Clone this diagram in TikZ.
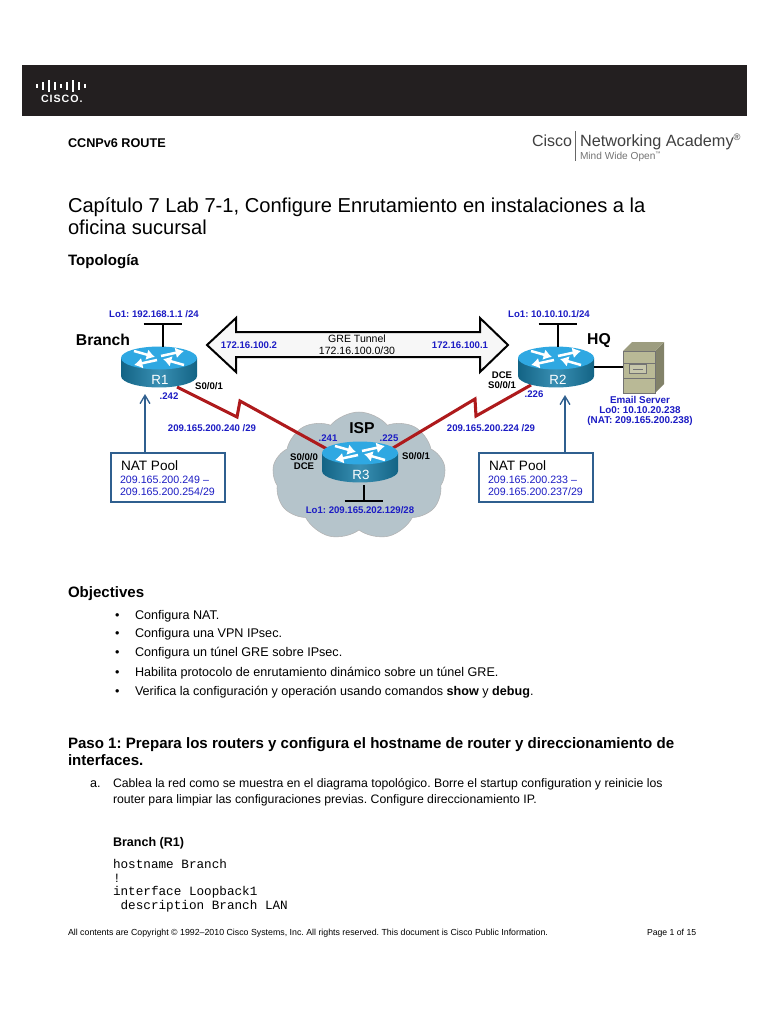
\documentclass[tikz,border=0pt]{standalone}
\usepackage{fontspec}
\setmainfont{Liberation Sans}
\setmonofont{Liberation Mono}
\usepackage{xcolor}
\usetikzlibrary{arrows.meta,positioning,shapes.symbols}
\definecolor{ciscoblack}{HTML}{231F20}
\definecolor{addrblue}{HTML}{1C1CC4}
\definecolor{linkred}{HTML}{AE1A1C}
\definecolor{poolline}{HTML}{2F5F8F}
\definecolor{cloudfill}{HTML}{B5C4CB}
\definecolor{routertop}{HTML}{2FA8E2}
\definecolor{routerside}{HTML}{177CA6}
\definecolor{servertan}{HTML}{B9B996}
\frenchspacing
\tikzset{
  txt/.style={anchor=base west, inner sep=0pt, outer sep=0pt, align=left},
  body/.style={txt, font=\fontsize{9.45}{12}\selectfont},
  head/.style={txt, font=\fontsize{11.3}{12.75}\selectfont\bfseries},
  code/.style={txt, font=\fontsize{9.5}{11}\selectfont\ttfamily},
  addr/.style={inner sep=0pt, text=addrblue, align=center, font=\fontsize{7.2}{7.4}\selectfont\bfseries},
  port/.style={inner sep=0pt, align=center, font=\fontsize{7.2}{7.2}\selectfont\bfseries},
  site/.style={inner sep=0pt, font=\fontsize{11.8}{12}\selectfont\bfseries},
  natbox/.style={draw=poolline, line width=1.1pt, fill=white, minimum width=85.5pt, minimum height=36.75pt, inner sep=0pt},
  natlbl/.style={txt, text=addrblue, font=\fontsize{8}{9}\selectfont},
  rname/.style={inner sep=0pt, text=white, font=\fontsize{10}{11}\selectfont},
  serial/.style={linkred, line width=2.3pt, line join=miter},
  lan/.style={black, line width=1.3pt},
  poolarrow/.style={-{Straight Barb[length=2.2mm,width=2.6mm]}, poolline, line width=1pt},
  rarrow/.style={white, line width=1.9pt, -{Latex[length=2.2mm,width=2.9mm]}},
  routericon/.pic={
    \shade[left color=routerside!80!black, right color=routerside!80!black, middle color=routerside!85!white]
      (-38,0) -- (-38,18) arc[start angle=180, end angle=360, x radius=28.5pt, y radius=8.6pt] -- (38,0) -- cycle;
    \fill[routertop] (0,0) ellipse[x radius=28.5pt, y radius=8.6pt];
    \foreach \a/\b/\c/\d in {-25/-7/-4/-1,25/7/4/1,-2/2/-25/7,2/-2/25/-7}
      \draw[rarrow] (\a,\b) -- (\c,\d);
  },
}
\begin{document}
\begin{tikzpicture}[x=0.75pt, y=-0.75pt]
  \useasboundingbox[fill=white] (0,0) rectangle (768,1024);
  % banner
  \fill[ciscoblack] (22,65) rectangle (747,116);
  \foreach \x/\h in {0/2,6/4,12/6,18/4,24/2,30/4,36/6,42/4,48/2}
    \fill[white] (36+\x,86-\h) rectangle (37.8+\x,86+\h);
  \node[txt, text=white, font=\fontsize{8}{10}\selectfont\bfseries\addfontfeature{LetterSpace=9}] (ciscoword) at (41,103) {CISCO.};
  \node[txt, font=\fontsize{9.5}{10}\selectfont\bfseries] (course) at (68,147) {CCNPv6 ROUTE};
  \node[txt, text=black!75, font=\fontsize{12}{13}\selectfont] (academyl) at (532,146) {Cisco};
  \node[txt, text=black!75, font=\fontsize{12.2}{13}\selectfont] (academy) at (580,146) {Networking Academy\textsuperscript{\fontsize{7}{7}\selectfont®}};
  \node[txt, text=black!55, font=\fontsize{7.6}{8}\selectfont] (motto) at (580,159) {Mind Wide Open\textsuperscript{\fontsize{4}{4}\selectfont™}};
  \draw[black!60, line width=.5pt] (575,131) -- (575,161);
  % heading
  \node[txt, font=\fontsize{15.1}{16.5}\selectfont] (title) at (68,234)
    {Capítulo 7 Lab 7-1, Configure Enrutamiento en instalaciones a la\\oficina sucursal};
  \node[head] (topo) at (68,265) {Topología};
  % cloud first, it lies under R3
  \node[cloud, cloud puffs=9, cloud puff arc=100, cloud ignores aspect, draw=black!30, fill=cloudfill,
        minimum width=130pt, minimum height=96pt, inner sep=0pt] (ispcloud) at (359,476) {};
  % tunnel
  \draw[line width=1.5pt, fill=black!3, line join=miter] (207,345) -- (236,318) -- (236,332) -- (480,332) -- (480,318)
    -- (508,345) -- (480,372) -- (480,357) -- (236,357) -- (236,372) -- cycle;
  \node[inner sep=0pt, align=center, font=\fontsize{7.9}{9}\selectfont] (gre) at (357,345) {GRE Tunnel\\172.16.100.0/30};
  \node[addr] (tunl) at (249,345) {172.16.100.2};
  \node[addr] (tunr) at (460,345) {172.16.100.1};
  % serial links
  \coordinate (s1) at (177,387);
  \coordinate (s3l) at (327,449);
  \coordinate (s2) at (531,385);
  \coordinate (s3r) at (393,448);
  \draw[serial] (s1) -- (237,417) -- (240,401) -- (s3l);
  \draw[serial] (s2) -- (476,416) -- (475,399) -- (s3r);
  % routers
  \foreach \x/\y in {159/358,556/358,360/453}
    \pic at (\x,\y) {routericon};
  \node[rname] (r1) at (160,380) {R1};
  \node[rname] (r2) at (558,380) {R2};
  \node[rname] (r3) at (361,475) {R3};
  % loopbacks
  \coordinate (lo1) at (163,324);
  \coordinate (lo2) at (558,324);
  \coordinate (lo3) at (364,501);
  \draw[lan] (lo1) -- (163,347);
  \draw[lan] (lo2) -- (558,347);
  \draw[lan] (lo3) -- (364,485);
  \foreach \c in {lo1,lo2,lo3}
    \draw[lan] ([xshift=-14.6pt]\c) -- ([xshift=14.6pt]\c);
  \node[addr] (lo1txt) at (154,314) {Lo1: 192.168.1.1 /24};
  \node[addr] (lo2txt) at (549,314) {Lo1: 10.10.10.1/24};
  \node[addr] (lo3txt) at (360,510) {Lo1: 209.165.202.129/28};
  % email server
  \fill[servertan!70!black] (655,351) -- (664,342) -- (664,384) -- (655,393) -- cycle;
  \fill[servertan!85!black] (623,351) -- (632,342) -- (664,342) -- (655,351) -- cycle;
  \node[draw=black!55, fill=servertan, minimum width=24pt, minimum height=31.5pt, inner sep=0pt] (server) at (639,372) {};
  \draw[black!55, line width=.4pt] (623,363) -- (655,363) (623,378) -- (655,378);
  \node[draw=black!55, fill=servertan!80!white, minimum width=13pt, minimum height=7pt, inner sep=0pt] (slot) at (638,369) {};
  \draw[black!55, line width=.4pt] (633,369) -- (643,369);
  \draw[lan] (594,367) -- (server.west |- 0,367);
  \node[addr, font=\fontsize{7.4}{7.2}\selectfont\bfseries] (srvtxt) at (640,411) {Email Server\\Lo0: 10.10.20.238\\(NAT: 209.165.200.238)};
  % labels
  \node[site] (branch) at (103,340) {Branch};
  \node[site] (hq) at (599,341) {HQ};
  \node[site] (isp) at (362,428) {ISP};
  \node[port] (p1) at (209,386) {S0/0/1};
  \node[port] (p2) at (304,461.5) {S0/0/0\\DCE};
  \node[port] (p3) at (416,456) {S0/0/1};
  \node[port] (p4) at (502,380.5) {DCE\\S0/0/1};
  \node[addr] (h1) at (169,396) {.242};
  \node[addr] (h2) at (328,438) {.241};
  \node[addr] (h3) at (389,438) {.225};
  \node[addr] (h4) at (534,394) {.226};
  \node[addr] (n1) at (212,428) {209.165.200.240 /29};
  \node[addr] (n2) at (491,428) {209.165.200.224 /29};
  % nat pools
  \node[natbox] (natl) at (168,477.5) {};
  \node[natbox] (natr) at (536,477.5) {};
  \draw[poolarrow] (natl.north -| 145,0) -- (145,394);
  \draw[poolarrow] (natr.north -| 565,0) -- (565,395);
  \node[txt, font=\fontsize{10.2}{10}\selectfont] (natlt) at (121,470) {NAT Pool};
  \node[txt, font=\fontsize{10.2}{10}\selectfont] (natrt) at (489,470) {NAT Pool};
  \node[natlbl] (natla) at (120,483) {209.165.200.249 –};
  \node[natlbl] (natlb) at (120,495) {209.165.200.254/29};
  \node[natlbl] (natra) at (488,483) {209.165.200.233 –};
  \node[natlbl] (natrb) at (488,495) {209.165.200.237/29};
  % objectives
  \node[head] (obj) at (68,597) {Objectives};
  \foreach \y/\t in {619/Configura NAT.,637/Configura una VPN IPsec.,656/Configura un túnel GRE sobre IPsec.,
      676/Habilita protocolo de enrutamiento dinámico sobre un túnel GRE.,
      695/Verifica la configuración y operación usando comandos \textbf{show} y \textbf{debug}.} {
    \node[body] (dot\y) at (115,\y) {•};
    \node[body] (item\y) at (135,\y) {\t};
  }
  % step
  \node[head] (paso) at (68,765)
    {Paso 1: Prepara los routers y configura el hostname de router y direccionamiento de\\interfaces.};
  \node[body] (stepa) at (90,787) {a.};
  \node[body, font=\fontsize{9.2}{12}\selectfont] (stepatxt) at (113,803)
    {Cablea la red como se muestra en el diagrama topológico. Borre el startup configuration y reinicie los\\router para limpiar las configuraciones previas. Configure direccionamiento IP.};
  \node[txt, font=\fontsize{9.4}{11}\selectfont\bfseries] (brname) at (113,846) {Branch (R1)};
  \foreach \y/\t in {868/hostname Branch,882/!,895/interface Loopback1,909/{ description Branch LAN}}
    \node[code] (code\y) at (113,\y) {\strut\t};
  % footer
  \node[txt, font=\fontsize{6.6}{8}\selectfont] (foot) at (68,935)
    {All contents are Copyright © 1992–2010 Cisco Systems, Inc. All rights reserved. This document is Cisco Public Information.};
  \node[txt, font=\fontsize{6.5}{8}\selectfont] (pageno) at (647,935) {Page 1 of 15};
\end{tikzpicture}
\end{document}
